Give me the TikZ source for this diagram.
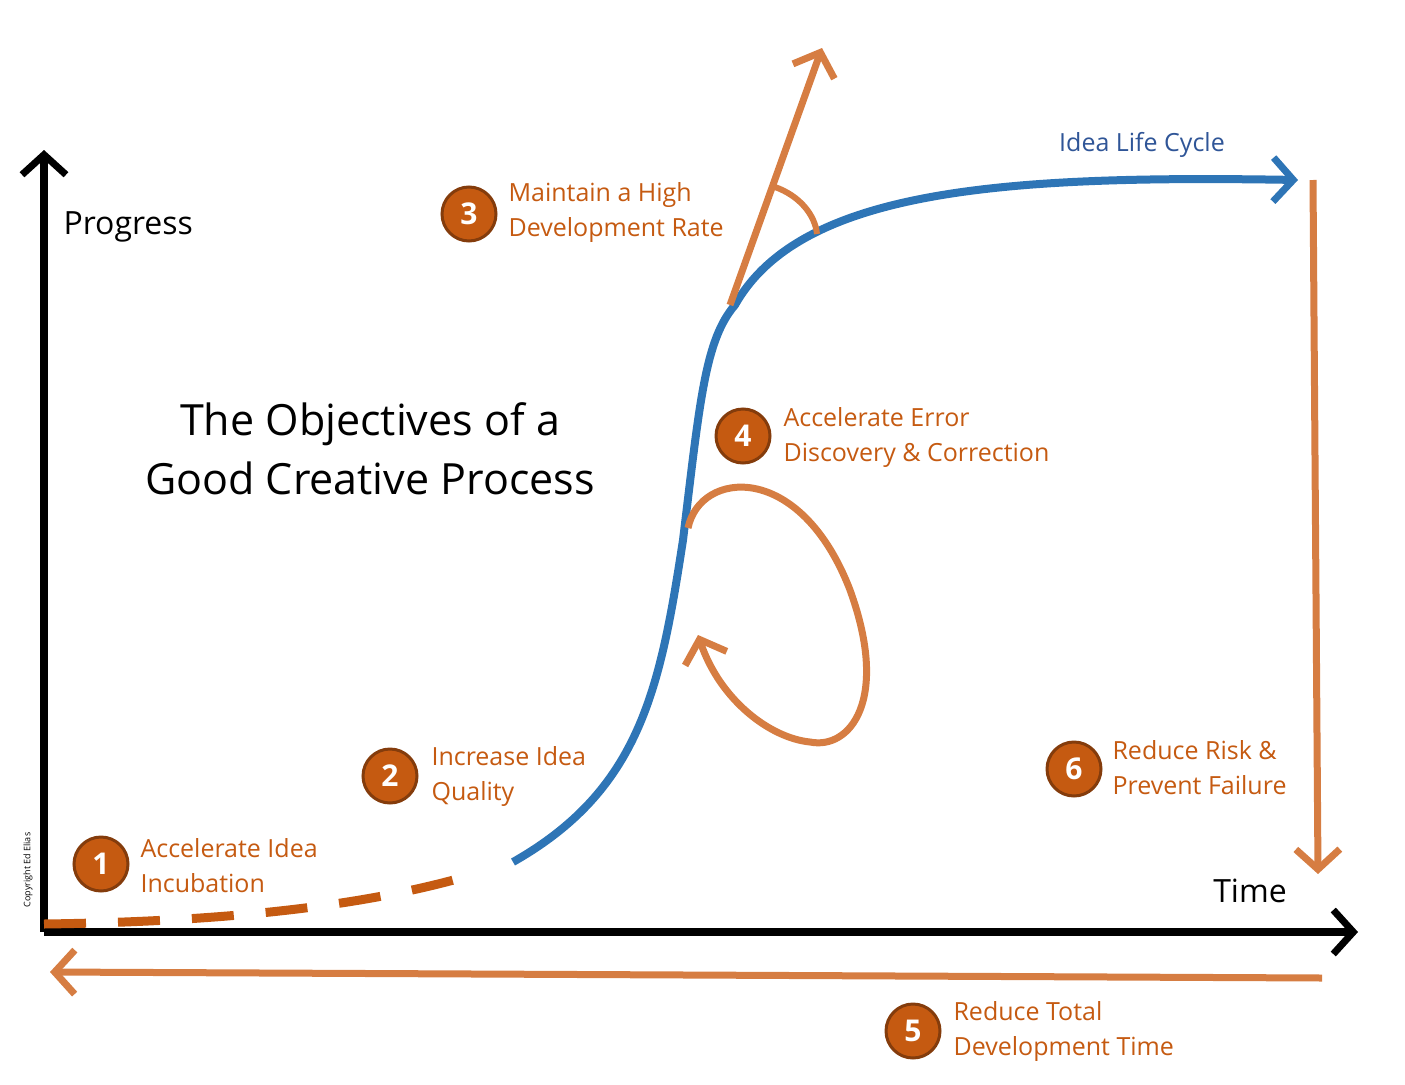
\documentclass[tikz,border=0pt]{standalone}
\usepackage{fontspec}
\setmainfont{Open Sans}
\usetikzlibrary{arrows.meta}
\definecolor{oline}{HTML}{D67D42}
\definecolor{otext}{HTML}{C55A11}
\definecolor{obord}{HTML}{843C0C}
\definecolor{bline}{HTML}{2E75B6}
\definecolor{btext}{HTML}{2F5597}
\tikzset{
 num/.style={circle,fill=otext,draw=obord,line width=3pt,minimum size=54pt,inner sep=0pt,text=white,font=\fontsize{30}{30}\selectfont\bfseries},
 lab/.style={anchor=west,align=left,text=otext,font=\fontsize{25}{35}\selectfont},
 barb/.style={-{Straight Barb[length=20pt,width=44pt,line width=7pt]}},
 oarrow/.style={oline,line width=7pt,barb},
}
\begin{document}
\begin{tikzpicture}[x=1pt,y=-1pt]
\useasboundingbox (0,0) rectangle (1405,1084);
\coordinate (O) at (44,932);
\coordinate (Y) at (44,150);
\coordinate (X) at (1358,932);
\draw[line width=8pt,-{Straight Barb[length=20pt,width=44pt,line width=7pt]}] (O) -- (Y);
\draw[line width=8pt,-{Straight Barb[length=20pt,width=44pt,line width=7pt]}] (O) -- (X);
\node[anchor=west,font=\fontsize{32}{32}\selectfont] (prog) at (60,227) {Progress};
\node[font=\fontsize{32}{32}\selectfont] (time) at (1250,891) {Time};
\node[align=center,font=\fontsize{43}{59}\selectfont] (title) at (370,449) {The Objectives of a\\Good Creative Process};
\node[rotate=90,font=\fontsize{9}{9}\selectfont] (copy) at (28,870) {Copyright Ed Elias};
% dashed
\coordinate (d0) at (44,924); \coordinate (d1) at (468,876);
\draw[otext,line width=9pt,dash pattern=on 42pt off 32pt] (d0) .. controls (200,922) and (350,910) .. (d1);
% blue curve
\coordinate (b0) at (513,862); \coordinate (bm) at (683,540); \coordinate (b1) at (735,305);
\coordinate (b2) at (1298,180);
\draw[bline,line width=8pt,barb] (b0) .. controls (640,790) and (660,690) .. (bm)
 .. controls (700,400) and (705,340) .. (b1)
 .. controls (800,190) and (1000,175) .. (b2);
\node[text=btext,font=\fontsize{25}{25}\selectfont] (ilc) at (1142,145) {Idea Life Cycle};
% arrow 3
\coordinate (a3s) at (730,305); \coordinate (a3e) at (822,48);
\draw[oarrow] (a3s) -- (a3e);
\draw[oline,line width=6pt] (775,187) .. controls (800,196) and (815,215) .. (817,234);
% loop 4
\coordinate (l0) at (688,528); \coordinate (l1) at (698,635);
\draw[oarrow] (l0) .. controls (700,470) and (800,460) .. (850,590)
 .. controls (890,700) and (850,750) .. (810,742) .. controls (770,738) and (720,700) .. (l1);
% arrow 6
\coordinate (a6s) at (1313,180); \coordinate (a6e) at (1318,874);
\draw[oarrow] (a6s) -- (a6e);
% arrow 5
\coordinate (a5s) at (1322,978); \coordinate (a5e) at (50,972);
\draw[oarrow] (a5s) -- (a5e);
% numbers
\node[num] (n1) at (101,864) {1};
\node[num] (n2) at (390,776) {2};
\node[num] (n3) at (469,214) {3};
\node[num] (n4) at (743,436) {4};
\node[num] (n5) at (913,1031) {5};
\node[num] (n6) at (1074,769) {6};
\node[lab] (t1) at (137,866) {Accelerate Idea\\Incubation};
\node[lab] (t2) at (428,776) {Increase Idea\\Quality};
\node[lab] (t3) at (505,213) {Maintain a High\\Development Rate};
\node[lab] (t4) at (780,437) {Accelerate Error\\Discovery \& Correction};
\node[lab] (t5) at (950,1031) {Reduce Total\\Development Time};
\node[lab] (t6) at (1109,768) {Reduce Risk \&\\Prevent Failure};
\end{tikzpicture}
\end{document}
